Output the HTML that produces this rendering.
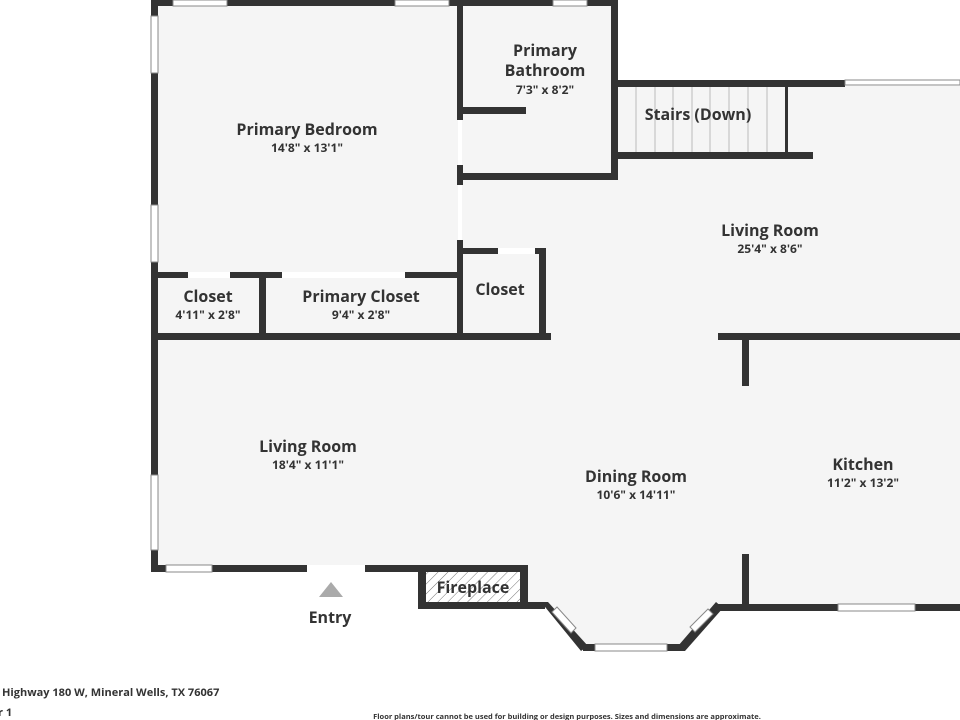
<!DOCTYPE html>
<html><head><meta charset="utf-8"><style>
html,body{margin:0;padding:0;background:#fff;width:960px;height:720px;overflow:hidden}
svg text{font-family:"Open Sans","Liberation Sans","DejaVu Sans",sans-serif;fill:#333;text-anchor:middle}
.n{font-size:16px;font-weight:bold}
.d{font-size:12px;font-weight:bold}
</style></head><body>
<svg width="960" height="720" viewBox="0 0 960 720" xmlns="http://www.w3.org/2000/svg">
<defs>
<pattern id="h" width="7" height="7" patternUnits="userSpaceOnUse" patternTransform="rotate(45)">
<rect width="7" height="7" fill="#fff"/><line x1="0" y1="0" x2="0" y2="7" stroke="#777" stroke-width="1"/>
</pattern>
</defs>
<!-- floor -->
<polygon fill="#f5f5f5" points="155,3 612,3 612,86 960,86 960,608 718,608 685,648 583,648 545,605 528,605 528,568 155,568"/>
<g fill="#333">
<!-- left wall -->
<rect x="151" y="0" width="7" height="572"/>
<!-- top wall -->
<rect x="151" y="0" width="465" height="6"/>
<!-- bedroom/bath divider -->
<rect x="457" y="0" width="6" height="120"/>
<rect x="457" y="165" width="6" height="20"/>
<rect x="457" y="240" width="6" height="96"/>
<!-- bath right -->
<rect x="611" y="0" width="7" height="180"/>
<rect x="457" y="173" width="161" height="7"/>
<rect x="462" y="107" width="64" height="7"/>
<!-- stairs -->
<rect x="611" y="80" width="234" height="7"/>
<rect x="611" y="152" width="202" height="7"/>
<rect x="785" y="86" width="3" height="68"/>
<!-- closets -->
<rect x="151" y="272" width="37" height="6"/>
<rect x="230" y="272" width="52" height="6"/>
<rect x="405" y="272" width="54" height="6"/>
<rect x="259" y="272" width="7" height="64"/>
<rect x="151" y="333" width="400" height="7"/>
<rect x="457" y="248" width="41" height="6"/>
<rect x="535" y="248" width="10" height="6"/>
<rect x="539" y="248" width="7" height="90"/>
<!-- kitchen -->
<rect x="718" y="333" width="242" height="7"/>
<rect x="742" y="336" width="7" height="50"/>
<rect x="742" y="554" width="7" height="56"/>
<!-- bottom -->
<rect x="151" y="565" width="269" height="7"/>
<rect x="418" y="565" width="110" height="7"/>
<rect x="418" y="565" width="8" height="44"/>
<rect x="520" y="565" width="8" height="44"/>
<rect x="418" y="602" width="127" height="7"/>
<rect x="718" y="604" width="242" height="7"/>
<rect x="583" y="644" width="102" height="7"/>
</g>
<polygon fill="#333" points="541,602 548,602 588,646 581,651"/>
<polygon fill="#333" points="716,602 723,608 685,651 678,646"/>
<!-- windows / openings -->
<g fill="#fff" stroke="#888" stroke-width="1">
<rect x="173" y="0" width="54" height="6"/>
<rect x="395" y="0" width="54" height="6"/>
<rect x="553" y="0" width="34" height="6"/>
<rect x="151" y="16" width="7" height="57"/>
<rect x="151" y="205" width="7" height="57"/>
<rect x="151" y="475" width="7" height="75"/>
<rect x="166" y="565" width="46" height="7"/>
<rect x="838" y="604" width="77" height="7"/>
<rect x="595" y="644" width="72" height="7"/>
<rect x="845" y="80" width="115" height="5"/>
</g>
<g fill="#fff">
<rect x="458" y="120" width="4" height="45"/>
<rect x="458" y="185" width="4" height="55"/>
<rect x="188" y="272" width="42" height="6"/>
<rect x="282" y="272" width="123" height="6"/>
<rect x="498" y="248" width="37" height="6"/>
<rect x="307" y="565" width="58" height="7"/>
</g>
<polygon fill="#fff" stroke="#888" points="552,612 557,607 576,628 571,633"/>
<polygon fill="#fff" stroke="#888" points="695,632 690,627 708,609 713,614"/>
<!-- stair treads -->
<g stroke="#bbb" stroke-width="1">
<line x1="636" y1="87" x2="636" y2="152"/><line x1="655" y1="87" x2="655" y2="152"/>
<line x1="673" y1="87" x2="673" y2="152"/><line x1="692" y1="87" x2="692" y2="152"/>
<line x1="710" y1="87" x2="710" y2="152"/><line x1="729" y1="87" x2="729" y2="152"/>
<line x1="748" y1="87" x2="748" y2="152"/><line x1="767" y1="87" x2="767" y2="152"/>
</g>
<!-- fireplace -->
<rect x="426" y="572" width="94" height="30" fill="url(#h)"/>
<text class="n" x="473" y="593">Fireplace</text>
<polygon fill="#aaa" points="331,582 319,597 343,597"/>
<text class="n" x="330" y="623">Entry</text>
<!-- labels -->
<text class="n" x="545" y="56">Primary</text>
<text class="n" x="545" y="76">Bathroom</text>
<text class="d" x="545" y="94">7'3" x 8'2"</text>
<text class="n" x="698" y="120">Stairs (Down)</text>
<text class="n" x="307" y="135">Primary Bedroom</text>
<text class="d" x="307" y="152">14'8" x 13'1"</text>
<text class="n" x="770" y="236">Living Room</text>
<text class="d" x="770" y="253">25'4" x 8'6"</text>
<text class="n" x="208" y="302">Closet</text>
<text class="d" x="208" y="319">4'11" x 2'8"</text>
<text class="n" x="361" y="302">Primary Closet</text>
<text class="d" x="361" y="319">9'4" x 2'8"</text>
<text class="n" x="500" y="295">Closet</text>
<text class="n" x="308" y="452">Living Room</text>
<text class="d" x="308" y="469">18'4" x 11'1"</text>
<text class="n" x="636" y="482">Dining Room</text>
<text class="d" x="636" y="499">10'6" x 14'11"</text>
<text class="n" x="863" y="470">Kitchen</text>
<text class="d" x="863" y="487">11'2" x 13'2"</text>
<text x="2" y="696" style="font-size:11px;font-weight:bold;text-anchor:start">Highway 180 W, Mineral Wells, TX 76067</text>
<text x="-2" y="716" style="font-size:11px;font-weight:bold;text-anchor:start">r 1</text>
<text x="567" y="719" style="font-size:7.5px;font-weight:bold">Floor plans/tour cannot be used for building or design purposes. Sizes and dimensions are approximate.</text>
</svg>
</body></html>
